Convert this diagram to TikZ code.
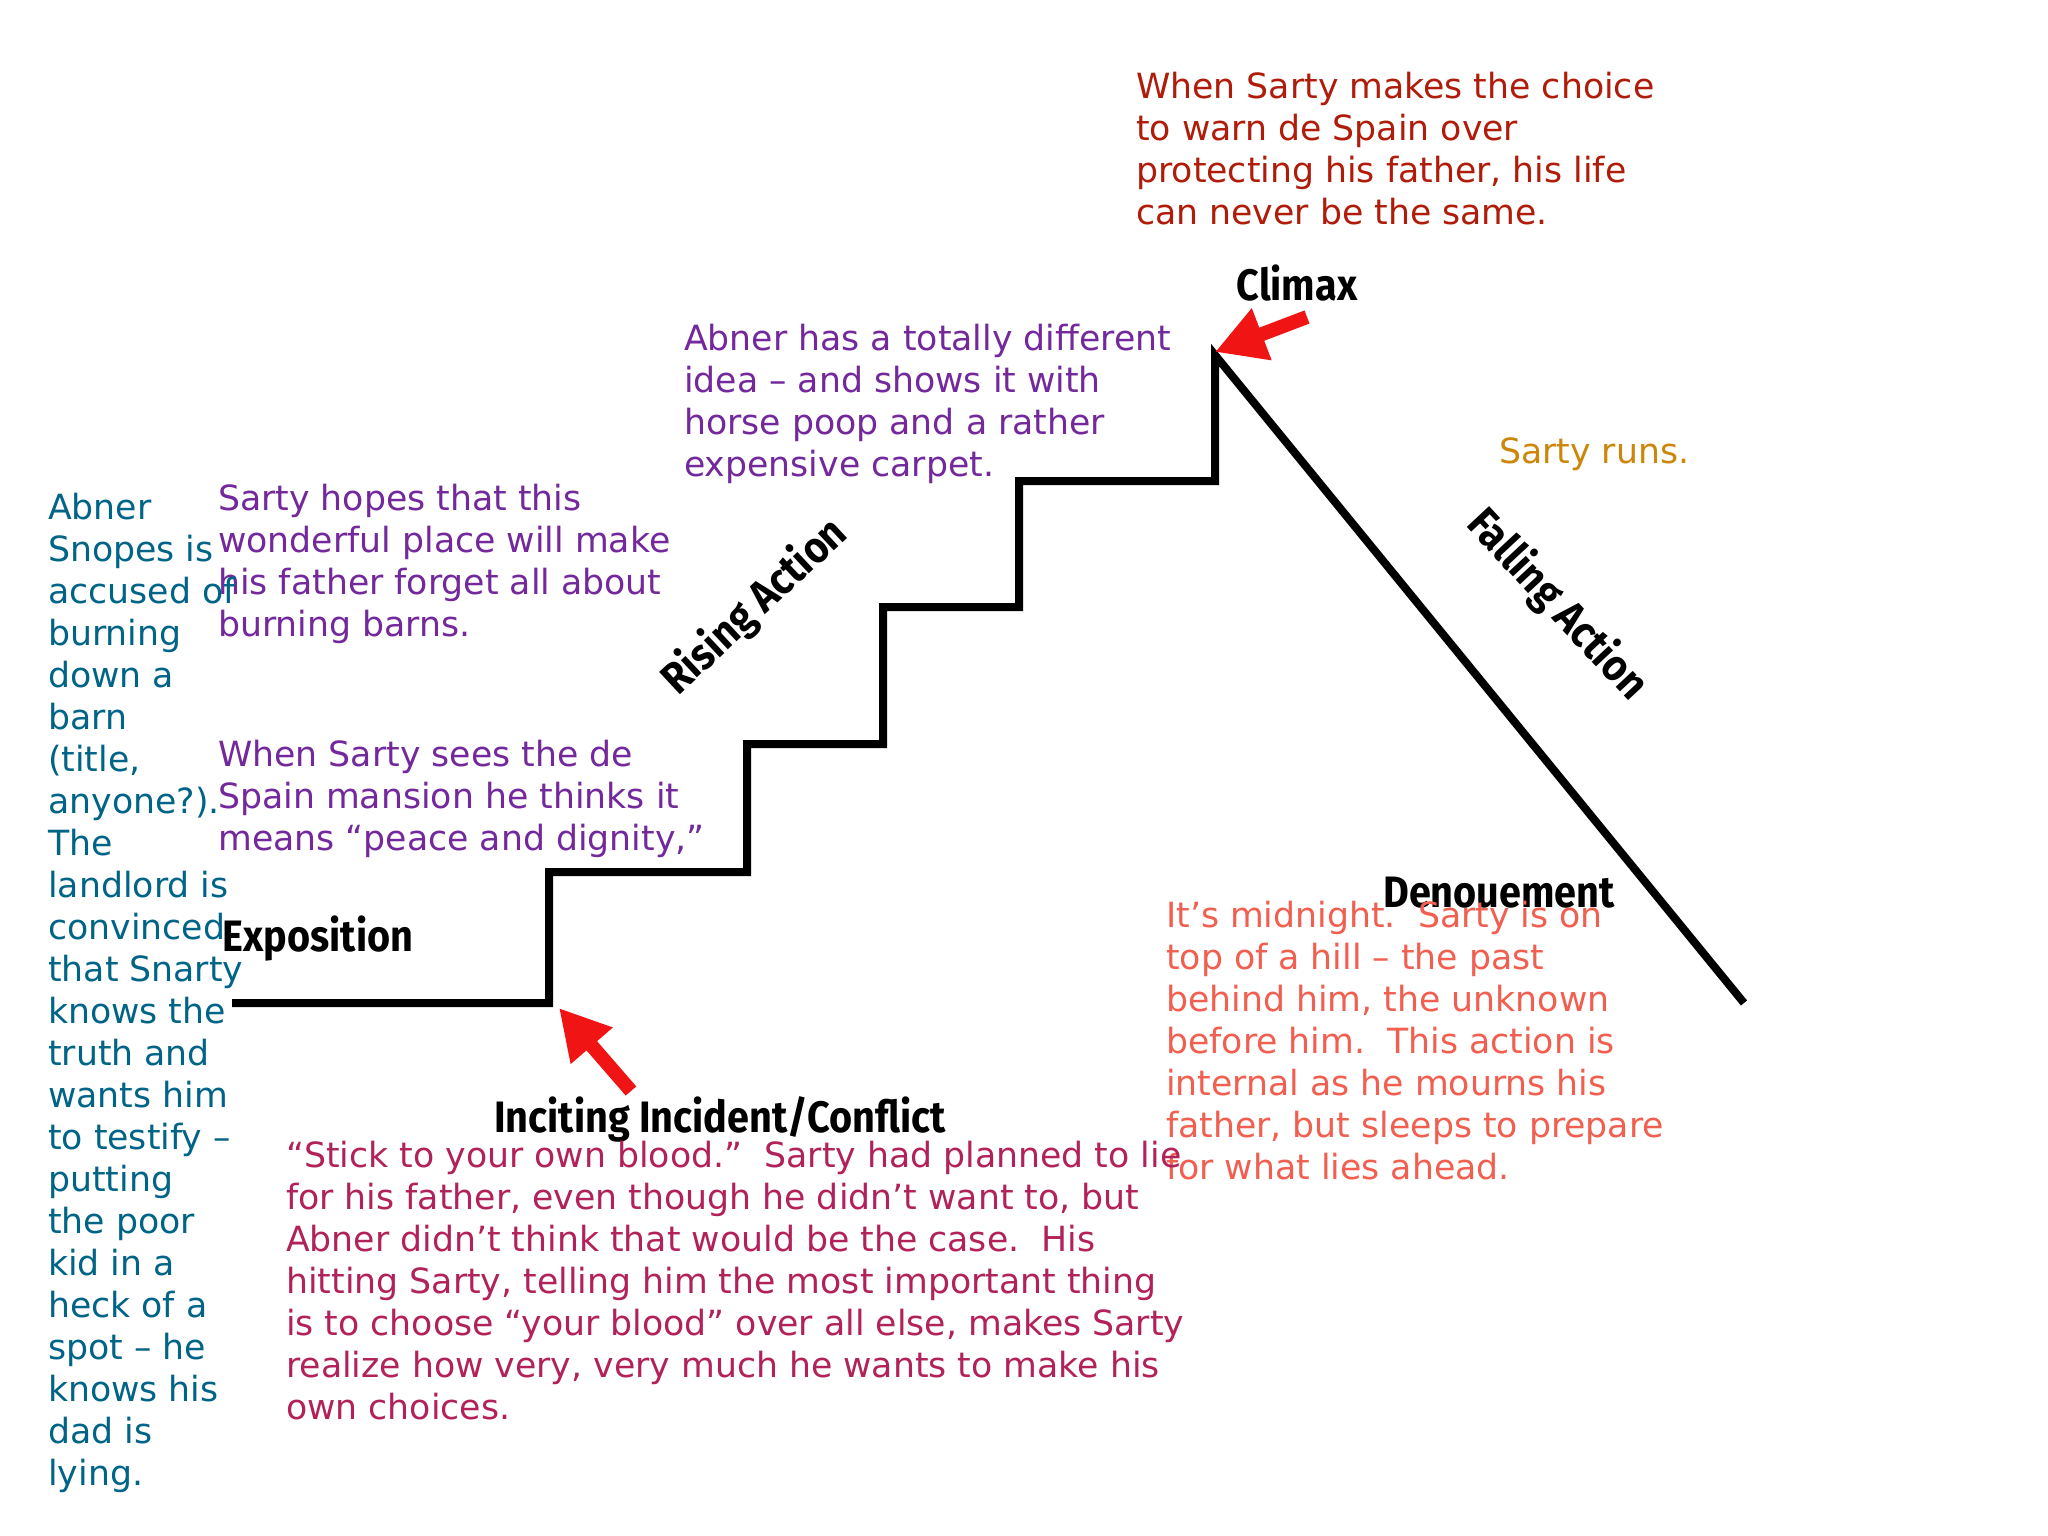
\documentclass[tikz,border=0pt]{standalone}
\usepackage{fontspec}
\setmainfont{DejaVu Sans}
\newfontfamily\lblfont[FakeStretch=0.9]{Fira Sans}
\usetikzlibrary{arrows.meta}
\definecolor{climaxred}{RGB}{176,28,10}
\definecolor{plum}{RGB}{115,40,155}
\definecolor{tealtxt}{RGB}{0,100,135}
\definecolor{goldtxt}{RGB}{204,135,10}
\definecolor{coraltxt}{RGB}{240,95,80}
\definecolor{crimsontxt}{RGB}{178,34,90}
\definecolor{arrowred}{RGB}{240,20,20}
\tikzset{
  txt/.style={anchor=north west, inner sep=0pt, align=left, font=\fontsize{34.7}{42}\selectfont},
  lbl/.style={inner sep=0pt, font=\lblfont\bfseries\fontsize{44}{48}\selectfont},
  plotline/.style={line width=8pt, line join=miter, draw=black},
  redarrow/.style={draw=arrowred, line width=14pt, -{Triangle[length=50pt,width=52pt]}},
}
\begin{document}
\begin{tikzpicture}[x=1pt,y=-1pt]
\useasboundingbox[fill=white] (0,0) rectangle (2048,1536);

% staircase corners
\coordinate (s0) at (232,1003);
\coordinate (s1) at (549,1003);
\coordinate (s2) at (549,872);
\coordinate (s3) at (747,872);
\coordinate (s4) at (747,744);
\coordinate (s5) at (883,744);
\coordinate (s6) at (883,607);
\coordinate (s7) at (1019,607);
\coordinate (s8) at (1019,481);
\coordinate (s9) at (1215,481);
\coordinate (peak) at (1215,355);
\coordinate (fend) at (1744,1003);
\draw[plotline] (s0) -- (s1) -- (s2) -- (s3) -- (s4) -- (s5) -- (s6) -- (s7) -- (s8) -- (s9) -- (peak) -- (fend);

% red arrows
\coordinate (ctail) at (1307,317);
\coordinate (ctip) at (1215,352);
\coordinate (itail) at (631,1091);
\coordinate (itip) at (559,1008);
\draw[redarrow] (ctail) -- (ctip);
\draw[redarrow] (itail) -- (itip);

% labels
\node[lbl] (climax) at (1297,283) {Climax};
\node[lbl, rotate=43] (rising) at (755,607) {Rising Action};
\node[lbl, rotate=-47] (falling) at (1557,605) {Falling Action};
\node[lbl] (expo) at (318,939) {Exposition};
\node[lbl] (inciting) at (720,1119) {Inciting Incident/Conflict};
\node[lbl] (denoue) at (1499,893) {Denouement};

% texts
\node[txt, text=climaxred] (tclimax) at (1136,72) {When Sarty makes the choice\\to warn de Spain over\\protecting his father, his life\\can never be the same.};
\node[txt, text=plum] (tabner) at (684,324) {Abner has a totally different\\idea – and shows it with\\horse poop and a rather\\expensive carpet.};
\node[txt, text=plum] (thopes) at (218,484) {Sarty hopes that this\\wonderful place will make\\his father forget all about\\burning barns.};
\node[txt, text=plum] (tsees) at (218,740) {When Sarty sees the de\\Spain mansion he thinks it\\means “peace and dignity,”};
\node[txt, text=tealtxt] (texpo) at (48,493) {Abner\\Snopes is\\accused of\\burning\\down a\\barn\\(title,\\anyone?).\\The\\landlord is\\convinced\\that Snarty\\knows the\\truth and\\wants him\\to testify –\\putting\\the poor\\kid in a\\heck of a\\spot – he\\knows his\\dad is\\lying.};
\node[txt, text=goldtxt] (truns) at (1499,438) {Sarty runs.};
\node[txt, text=coraltxt] (tmid) at (1166,901) {It’s midnight.\ \ Sarty is on\\top of a hill – the past\\behind him, the unknown\\before him.\ \ This action is\\internal as he mourns his\\father, but sleeps to prepare\\for what lies ahead.};
\node[txt, text=crimsontxt] (tstick) at (286,1141) {“Stick to your own blood.”\ \ Sarty had planned to lie\\for his father, even though he didn’t want to, but\\Abner didn’t think that would be the case.\ \ His\\hitting Sarty, telling him the most important thing\\is to choose “your blood” over all else, makes Sarty\\realize how very, very much he wants to make his\\own choices.};
\end{tikzpicture}
\end{document}
